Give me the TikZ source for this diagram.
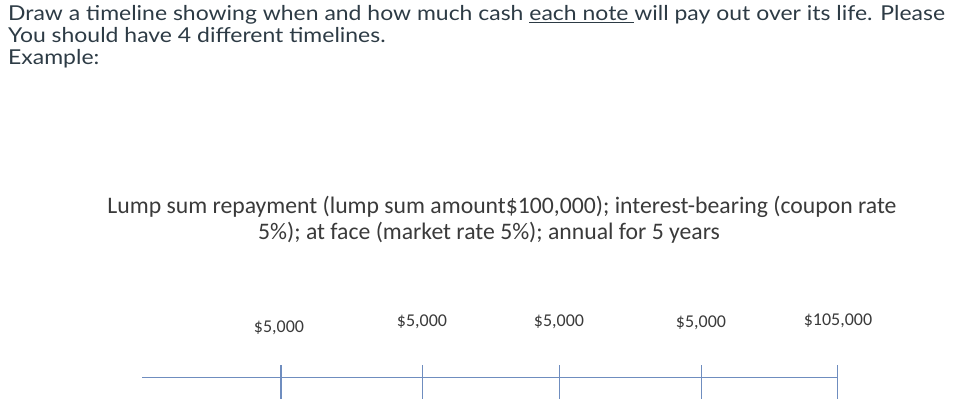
\documentclass[tikz,border=0pt]{standalone}
\usepackage{fontspec}
\setmainfont{Lato}
\newfontfamily\calfont{Carlito}
\definecolor{headtext}{HTML}{2D3B45}
\definecolor{lineblue}{HTML}{6F8DBF}
\definecolor{desctext}{HTML}{3A3A3A}
\newcommand{\widetext}[1]{\scalebox{1.12}[1]{#1}}
\begin{document}
\begin{tikzpicture}[x=1pt,y=-1pt,
  head/.style={anchor=base west,inner sep=0pt,text=headtext,font=\fontsize{20.5}{22}\selectfont},
  desc/.style={anchor=base,inner sep=0pt,text=desctext,font=\calfont\fontsize{23.7}{26}\selectfont},
  amount/.style={anchor=base,inner sep=0pt,text=desctext,font=\calfont\fontsize{18}{21}\selectfont},
  axis/.style={draw=lineblue,line width=1.1pt},
  tick/.style={draw=lineblue,line width=1.1pt}]
\useasboundingbox (0,0) rectangle (964,412);
\node[head] (h1) at (8,21) {\widetext{Draw a timeline showing when and how much cash \underline{each note }will pay out over its life. Please}};
\node[head] (h2) at (8,42.7) {\widetext{You should have 4 different timelines.}};
\node[head] (h3) at (8,64.4) {\widetext{Example:}};
\node[desc] (d1) at (502,213.3) {Lump sum repayment (lump sum amount\$100,000); interest-bearing (coupon rate};
\node[desc] (d2) at (489,239) {5\%); at face (market rate 5\%); annual for 5 years};
\coordinate (start) at (142,377.5);
\coordinate (t1) at (281,377.5);
\coordinate (t2) at (422.5,377.5);
\coordinate (t3) at (559.5,377.5);
\coordinate (t4) at (701.5,377.5);
\coordinate (t5) at (837.5,377.5);
\draw[axis] (start) -- (t5);
\foreach \t in {t1,t2,t3,t4,t5}{
  \draw[tick] ([yshift=12.5pt]\t) -- ([yshift=-21.5pt]\t);
}
\node[amount] (a1) at (279,332.5) {\$5,000};
\node[amount] (a2) at (422,326.7) {\$5,000};
\node[amount] (a3) at (559,326) {\$5,000};
\node[amount] (a4) at (701,327.3) {\$5,000};
\node[amount] (a5) at (838,325) {\$105,000};
\end{tikzpicture}
\end{document}
